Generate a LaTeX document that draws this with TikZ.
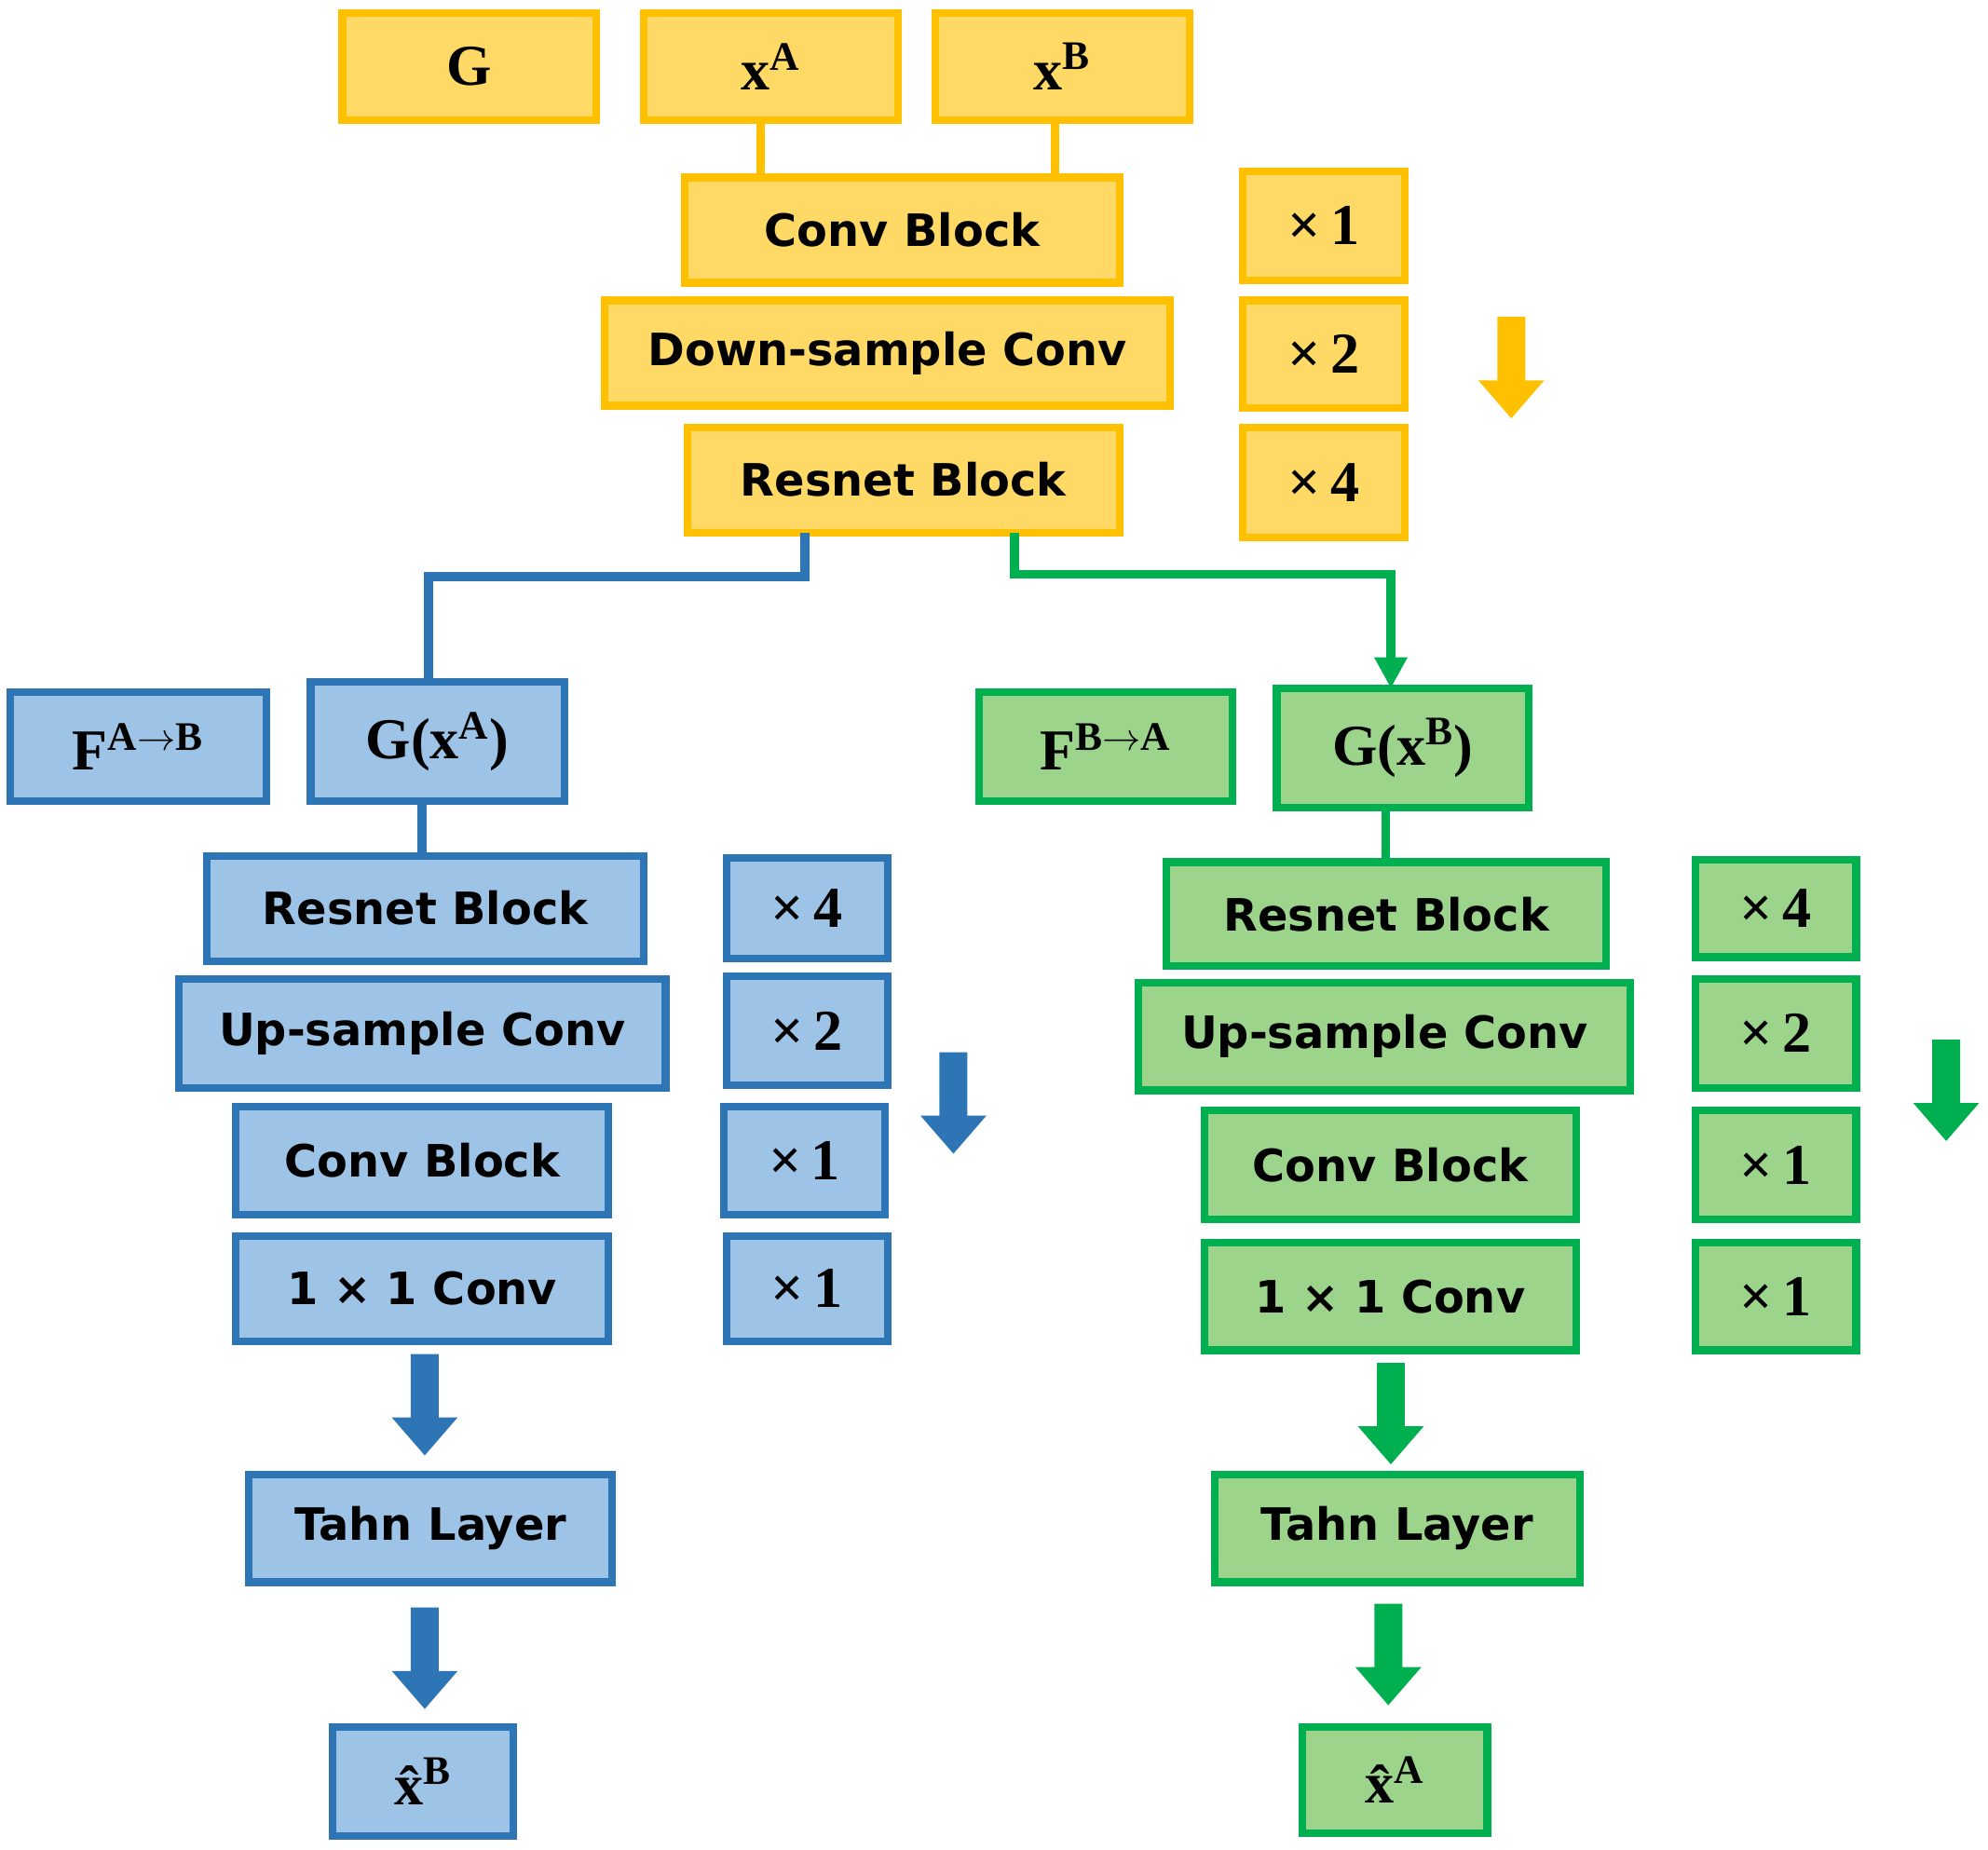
\documentclass[tikz,border=0pt]{standalone}
\usepackage{fontspec}
\usetikzlibrary{arrows.meta}
\setmainfont{DejaVu Sans}
\newfontfamily\serf{Liberation Serif}
\newcommand\ser{\serf\fontsize{26}{30}\selectfont}
\definecolor{yf}{HTML}{FFD966}\definecolor{yd}{HTML}{FFC000}
\definecolor{bf}{HTML}{9DC3E6}\definecolor{bd}{HTML}{2E75B6}
\definecolor{gf}{HTML}{9BD48A}\definecolor{gd}{HTML}{00B050}
\newcommand\bx[7]{\node[#6,minimum width={(#4-#2)*0.02cm},minimum height={(#5-#3)*0.02cm}] (#1) at ({(#2+#4)/2},{(#3+#5)/2}) {#7};}
\newcommand\barrow[5]{\fill[#4] (#2-11,#3) coordinate (#5) -- (#2+11,#3) -- (#2+11,#3+50) -- (#2+26,#3+50) -- (#2,#3+80) -- (#2-26,#3+50) -- (#2-11,#3+50) -- cycle;}
\begin{document}
\begin{tikzpicture}[x=0.02cm,y=-0.02cm,
 box/.style={draw,line width=3.4pt,inner sep=0pt,outer sep=0pt,font=\fontsize{20}{24}\selectfont\bfseries},
 Y/.style={box,fill=yf,draw=yd},B/.style={box,fill=bf,draw=bd},Gr/.style={box,fill=gf,draw=gd},
 ln/.style={line width=4pt}]
\useasboundingbox (0,0) rectangle (1568,1459);
% yellow
\bx{g}{270}{10}{470}{95}{Y}{\ser G}
\bx{xa}{508}{10}{708}{95}{Y}{\ser x\textsuperscript{A}}
\bx{xb}{738}{10}{938}{95}{Y}{\ser x\textsuperscript{B}}
\bx{yconv}{540}{140}{883}{223}{Y}{Conv Block}
\bx{ydown}{477}{237}{923}{320}{Y}{Down-sample Conv}
\bx{yres}{542}{337}{883}{420}{Y}{Resnet Block}
\bx{ym1}{980}{135}{1108}{221}{Y}{\ser ×\,1}
\bx{ym2}{980}{237}{1108}{322}{Y}{\ser ×\,2}
\bx{ym3}{980}{337}{1108}{424}{Y}{\ser ×\,4}
\barrow{ya}{1192}{250}{yd}{ya}
\draw[ln,yd] (xa.south -| 600,0) -- (yconv.north -| 600,0);
\draw[ln,yd] (xb.south -| 832,0) -- (yconv.north -| 832,0);
% blue
\bx{fab}{8}{546}{210}{632}{B}{\ser F\textsuperscript{A$\rightarrow$B}}
\bx{gxa}{245}{538}{445}{632}{B}{\ser G(x\textsuperscript{A})}
\bx{bres}{163}{675}{508}{758}{B}{Resnet Block}
\bx{bup}{141}{772}{525}{858}{B}{Up-sample Conv}
\bx{bconv}{186}{873}{480}{958}{B}{Conv Block}
\bx{b11}{186}{975}{480}{1058}{B}{1 × 1 Conv}
\bx{bm1}{573}{677}{700}{756}{B}{\ser ×\,4}
\bx{bm2}{573}{770}{700}{856}{B}{\ser ×\,2}
\bx{bm3}{571}{873}{698}{958}{B}{\ser ×\,1}
\bx{bm4}{573}{975}{700}{1058}{B}{\ser ×\,1}
\bx{btanh}{196}{1163}{483}{1248}{B}{Tahn Layer}
\bx{bout}{262}{1362}{405}{1448}{B}{\ser \^{x}\textsuperscript{B}}
\barrow{}{752}{830}{bd}{ba1}
\barrow{}{335}{1068}{bd}{ba2}
\barrow{}{335}{1268}{bd}{ba3}
\draw[ln,bd] (yres.south -| 635,0) -- (635,455) -- (338,455) -- (gxa.north -| 338,0);
\draw[ln,bd] (gxa.south -| 333,0) -- (bres.north -| 333,0);
% green
\bx{fba}{772}{546}{972}{632}{Gr}{\ser F\textsuperscript{B$\rightarrow$A}}
\bx{gxb}{1007}{543}{1206}{637}{Gr}{\ser G(x\textsuperscript{B})}
\bx{gres}{920}{680}{1267}{762}{Gr}{Resnet Block}
\bx{gup}{898}{775}{1286}{860}{Gr}{Up-sample Conv}
\bx{gconv}{950}{876}{1243}{962}{Gr}{Conv Block}
\bx{g11}{950}{980}{1243}{1065}{Gr}{1 × 1 Conv}
\bx{gm1}{1337}{678}{1464}{755}{Gr}{\ser ×\,4}
\bx{gm2}{1337}{772}{1464}{858}{Gr}{\ser ×\,2}
\bx{gm3}{1337}{876}{1464}{962}{Gr}{\ser ×\,1}
\bx{gm4}{1337}{980}{1464}{1065}{Gr}{\ser ×\,1}
\bx{gtanh}{958}{1163}{1246}{1248}{Gr}{Tahn Layer}
\bx{gout}{1027}{1362}{1173}{1446}{Gr}{\ser \^{x}\textsuperscript{A}}
\barrow{}{1535}{820}{gd}{ga1}
\barrow{}{1097}{1075}{gd}{ga2}
\barrow{}{1095}{1265}{gd}{ga3}
\draw[ln,gd,-{Triangle[length=14pt,width=14pt]}] (yres.south -| 800,0) -- (800,453) -- (1097,453) -- (gxb.north -| 1097,0);
\draw[ln,gd] (gxb.south -| 1093,0) -- (gres.north -| 1093,0);
\end{tikzpicture}
\end{document}
